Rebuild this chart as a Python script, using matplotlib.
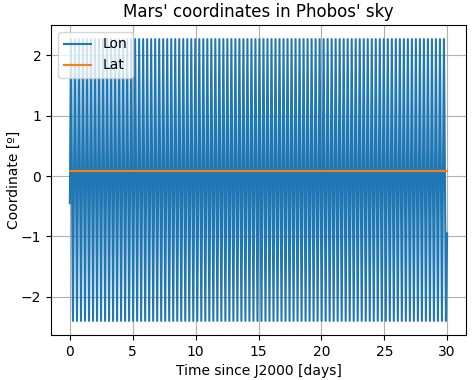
import matplotlib
matplotlib.use("Agg")
import matplotlib.pyplot as plt
import numpy as np

# Turning points of Mars' longitude in Phobos' sky
peak_times = [0.088, 0.407, 0.726, 1.045, 1.364, 1.683, 2.001, 2.320, 2.639, 2.958,
              3.277, 3.596, 3.915, 4.234, 4.553, 4.872, 5.190, 5.509, 5.828, 6.147,
              6.466, 6.785, 7.104, 7.423, 7.742, 8.061, 8.379, 8.698, 9.017, 9.336,
              9.655, 9.974, 10.293, 10.612, 10.931, 11.250, 11.568, 11.887, 12.206, 12.525,
              12.844, 13.163, 13.482, 13.801, 14.120, 14.439, 14.757, 15.076, 15.395, 15.714,
              16.033, 16.352, 16.671, 16.990, 17.309, 17.628, 17.946, 18.265, 18.584, 18.903,
              19.222, 19.541, 19.860, 20.179, 20.498, 20.817, 21.135, 21.454, 21.773, 22.092,
              22.411, 22.730, 23.049, 23.368, 23.687, 24.006, 24.324, 24.643, 24.962, 25.281,
              25.600, 25.919, 26.238, 26.557, 26.876, 27.195, 27.513, 27.832, 28.151, 28.470,
              28.789, 29.108, 29.427, 29.746]
trough_times = [0.248, 0.566, 0.885, 1.204, 1.523, 1.842, 2.161, 2.480, 2.799, 3.118,
                3.436, 3.755, 4.074, 4.393, 4.712, 5.031, 5.350, 5.669, 5.988, 6.307,
                6.625, 6.944, 7.263, 7.582, 7.901, 8.220, 8.539, 8.858, 9.177, 9.496,
                9.814, 10.133, 10.452, 10.771, 11.090, 11.409, 11.728, 12.047, 12.366, 12.685,
                13.003, 13.322, 13.641, 13.960, 14.279, 14.598, 14.917, 15.236, 15.555, 15.874,
                16.192, 16.511, 16.830, 17.149, 17.468, 17.787, 18.106, 18.425, 18.744, 19.063,
                19.381, 19.700, 20.019, 20.338, 20.657, 20.976, 21.295, 21.614, 21.933, 22.252,
                22.570, 22.889, 23.208, 23.527, 23.846, 24.165, 24.484, 24.803, 25.122, 25.441,
                25.759, 26.078, 26.397, 26.716, 27.035, 27.354, 27.673, 27.992, 28.311, 28.630,
                28.948, 29.267, 29.586, 29.905]
lon_max = 2.27
lon_min = -2.40
t_start, lon_start = 0.0, -0.45
t_end, lon_end = 30.0, -0.95

lat_value = 0.08

# Build Lon series from turning points
t_lon = [t_start]
lon = [lon_start]
for tp, tt in zip(peak_times, trough_times):
    t_lon += [tp, tt]
    lon += [lon_max, lon_min]
t_lon.append(t_end)
lon.append(lon_end)

t_lat = [t_start, t_end]
lat = [lat_value, lat_value]

fig = plt.figure(figsize=(4.74, 3.8), dpi=100)
ax = fig.add_axes([51/474, 1 - 335/380, (466-51)/474, (335-25)/380])
ax.plot(t_lon, lon, color="#1f77b4", label="Lon", lw=1.5)
ax.plot(t_lat, lat, color="#ff7f0e", label="Lat", lw=1.5)
ax.set_title("Mars' coordinates in Phobos' sky")
ax.set_xlabel("Time since J2000 [days]")
ax.set_ylabel("Coordinate [º]", labelpad=0)
ax.grid(True)
ax.legend(loc="upper left")
fig.savefig("out.png", dpi=100)
